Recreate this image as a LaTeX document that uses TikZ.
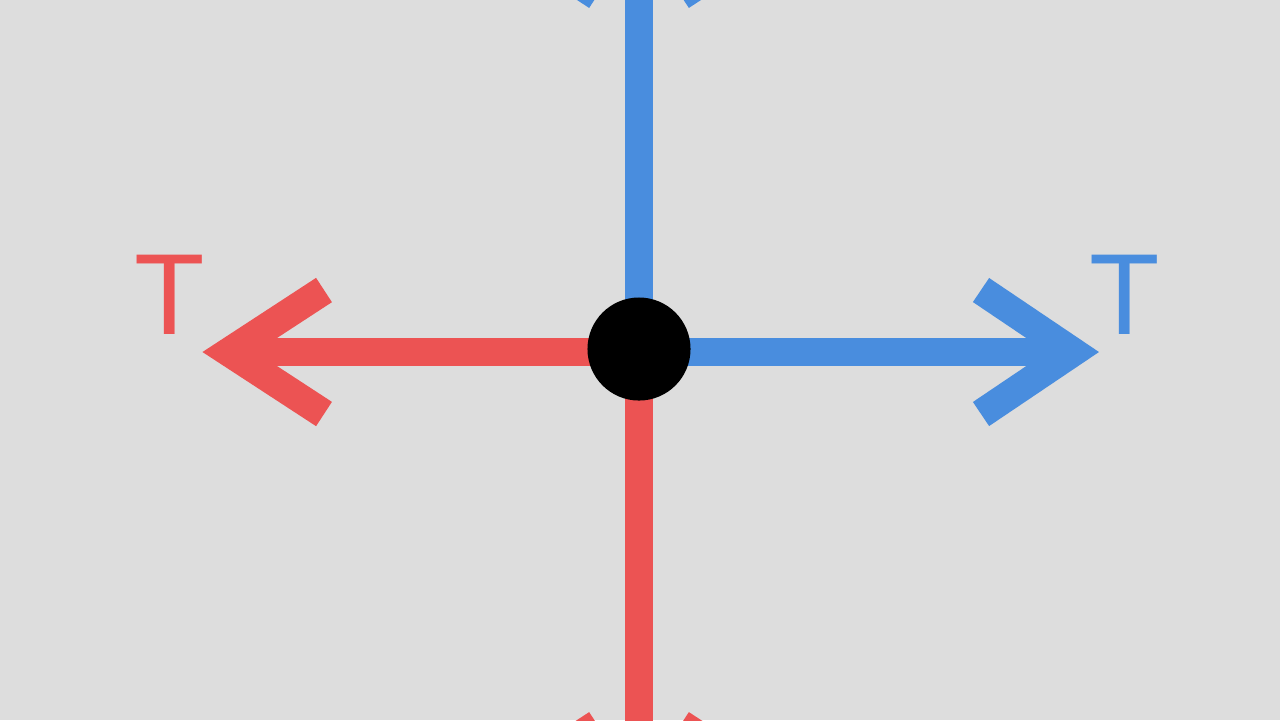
\documentclass[tikz,border=0pt]{standalone}
\usepackage{fontspec}
\setmainfont{Liberation Sans}
\usetikzlibrary{calc}

\definecolor{pullred}{RGB}{236,83,83}
\definecolor{pullblue}{RGB}{73,141,222}
\definecolor{paper}{RGB}{221,221,221}

\tikzset{
    shaft/.style={line width=0.28cm},
    barb/.style={line width=0.29cm, line join=miter, miter limit=10},
    knotdot/.style={circle, fill=black, minimum size=1.03cm, inner sep=0pt},
    pulllabel/.style={font=\fontsize{32.8}{36}\selectfont, inner sep=0pt}
}

\begin{document}
\begin{tikzpicture}[x=0.01cm, y=-0.01cm]
        \fill[paper] (0,0) rectangle (1280,720);
        \useasboundingbox (0,0) rectangle (1280,720);
        \clip (0,0) rectangle (1280,720);

        \coordinate (centre) at ( 639, 352);
        \coordinate (west)   at ( 229, 352);
        \coordinate (east)   at (1073, 352);
        \coordinate (north)  at ( 639, -95);
        \coordinate (south)  at ( 639, 815);

        % shafts
        \draw[shaft, pullblue] (centre) -- (north);
        \draw[shaft, pullblue] (centre) -- (east);
        \draw[shaft, pullred ] (centre) -- (west);
        \draw[shaft, pullred ] (centre) -- (south);

        % barbs
        \draw[barb, pullred ] ($(west)+( 95,-62)$) -- (west) -- ($(west)+( 95, 62)$);
        \draw[barb, pullblue] ($(east)+(-92,-62)$) -- (east) -- ($(east)+(-92, 62)$);
        \draw[barb, pullblue] ($(north)+(-62, 95)$) -- (north) -- ($(north)+( 62, 95)$);
        \draw[barb, pullred ] ($(south)+(-62,-95)$) -- (south) -- ($(south)+( 62,-95)$);

        \node[knotdot] (knot) at (639, 349) {};

        \node[pulllabel, text=pullred ] (tleft)  at ( 169.5, 295) {T};
        \node[pulllabel, text=pullblue] (tright) at (1124.5, 295) {T};
    \end{tikzpicture}
\end{document}
